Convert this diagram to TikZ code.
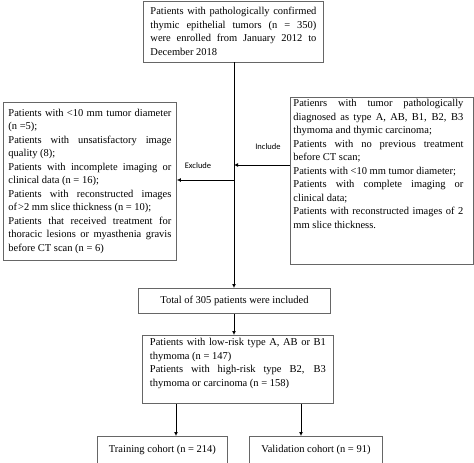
\documentclass[tikz,border=0pt]{standalone}
\usepackage{fontspec}
\setmainfont{Liberation Serif}
\newfontfamily\labelfont{Carlito}
\usetikzlibrary{arrows.meta}
\tikzset{
  box/.style={draw=black!60, line width=0.9pt, rectangle, inner sep=0pt, anchor=north west,
    font=\fontsize{10.5}{13.5}\selectfont},
  arr/.style={draw=black, line width=0.8pt, -{Latex[length=4pt,width=4pt]}},
  lab/.style={font=\labelfont\fontsize{8.5}{10}\selectfont}
}
\newcommand{\jtext}[4]{\parbox[c][#2][#4]{#1}{\vspace*{0pt}\spaceskip=0.25em plus 1em minus 0.05em\relax #3}}
\begin{document}
\begin{tikzpicture}[x=1pt,y=-1pt]
\useasboundingbox (0,0) rectangle (474,463);
% top box
\node[box, minimum width=180pt, minimum height=61pt] (top) at (143,0.5)
 {\jtext{166pt}{59pt}{Patients with pathologically confirmed thymic epithelial tumors (n = 350) were enrolled from January 2012 to December 2018}{c}};
% left exclusion box
\node[box, minimum width=173pt, minimum height=158pt] (excl) at (3,102)
 {\jtext{163pt}{156pt}{Patients with {<}10 mm tumor diameter (n =5);\\
 \hspace*{0pt}Patients with unsatisfactory image quality (8);\\
 Patients with incomplete imaging or clinical data (n = 16);\\
 Patients with reconstructed images of{\kern1pt}>2 mm slice thickness (n = 10);\\
 Patients that received treatment for thoracic lesions or myasthenia gravis before CT scan (n = 6)}{c}};
% right inclusion box
\node[box, minimum width=183pt, minimum height=167pt] (incl) at (290,97)
 {\hspace*{1pt}\jtext{170pt}{165pt}{\vspace*{1pt}Patienrs with tumor pathologically diagnosed as type A, AB, B1, B2, B3 thymoma and thymic carcinoma;\\
 Patients with no previous treatment before CT scan;\\
 Patients with {<}10 mm tumor diameter;\\
 Patients with complete imaging or clinical data;\\
 Patients with reconstructed images of 2 mm slice thickness.}{t}\hspace*{8pt}};
% total
\node[box, minimum width=192pt, minimum height=25pt] (total) at (138,288)
 {Total of 305 patients were included};
% risk box
\node[box, minimum width=191pt, minimum height=68pt] (risk) at (142,335)
 {\jtext{176pt}{66pt}{\vspace*{2pt}Patients with low-risk type A, AB or B1 thymoma (n = 147)\\
 Patients with high-risk type B2, B3 thymoma or carcinoma (n = 158)}{t}};
% cohorts
\node[box, minimum width=130pt, minimum height=27pt] (train) at (97,436)
 {Training cohort (n = 214)};
\node[box, minimum width=133pt, minimum height=27pt] (valid) at (249,436)
 {Validation cohort (n = 91)};
% connectors
\coordinate (j1) at (234,165);
\coordinate (j2) at (234,180);
\coordinate (c1) at (176,0);
\coordinate (c2) at (301,0);
\draw[line width=0.8pt] (top.south -| j1) -- (j2);
\draw[arr] (j2) -- (total.north -| j2);
\draw[arr] (incl.west |- j1) -- (j1);
\draw[arr] (j2) -- (excl.east |- j2);
\node[lab] (inc) at (268,147) {Include};
\node[lab] (exc) at (198,166) {Exclude};
\draw[arr] (total.south -| j2) -- (risk.north -| j2);
\draw[arr] (risk.south -| c1) -- (train.north -| c1);
\draw[arr] (risk.south -| c2) -- (valid.north -| c2);
\end{tikzpicture}
\end{document}
